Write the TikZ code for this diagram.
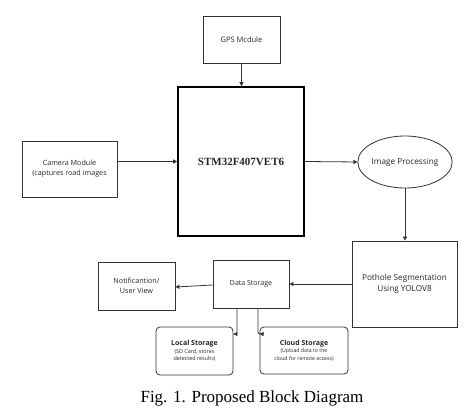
\documentclass[tikz,border=0pt]{standalone}
\usepackage{fontspec}
\setmainfont{Open Sans}
\newfontfamily\capfont{Liberation Serif}
\usetikzlibrary{arrows.meta,shapes.geometric}
\begin{document}
\begin{tikzpicture}[x=1pt,y=-1pt,
  box/.style={draw=black!80,line width=0.8pt,rectangle,inner sep=0pt,align=center,text=black!85},
  rbox/.style={box,rounded corners=4pt},
  conn/.style={draw=black!80,line width=0.8pt,-{Triangle[length=4pt,width=4pt]}},
  link/.style={draw=black!80,line width=0.8pt}]
\useasboundingbox (0,0) rectangle (474,414);
\node[box,minimum width=77pt,minimum height=47pt,font=\fontsize{7.5}{9}\selectfont] (gps) at (241.5,39.5) {GPS Mcdule};
\node[box,draw=black,line width=1.6pt,minimum width=126pt,minimum height=149pt,font=\capfont\bfseries\fontsize{11}{13}\selectfont] (stm) at (241,161.5) {STM32F407VET6};
\node[box,minimum width=95pt,minimum height=56pt,font=\fontsize{7.2}{10}\selectfont] (cam) at (69.5,169) {Camera Module\\(captures road images};
\node[box,ellipse,minimum width=86pt,minimum height=52pt,font=\fontsize{8.2}{10}\selectfont] (img) at (405,162) {Image Processing};
\node[box,minimum width=105pt,minimum height=86pt,font=\fontsize{8.2}{11}\selectfont] (pot) at (404.5,284) {Pothole Segmentation\\Using YOLOV8};
\node[box,minimum width=76pt,minimum height=48pt,font=\fontsize{7}{9}\selectfont] (ds) at (251,284) {Data Storage};
\node[box,minimum width=77pt,minimum height=48pt,font=\fontsize{7.2}{10}\selectfont] (note) at (136.5,286) {Notificantion/\\User View};
\node[rbox,minimum width=77pt,minimum height=48pt,font=\fontsize{5.4}{7.5}\selectfont] (loc) at (194.5,351) {{\bfseries\fontsize{7}{9}\selectfont Local Storage}\\(SD Card, stores\\detected results)};
\node[rbox,minimum width=88pt,minimum height=47pt,font=\fontsize{5.2}{7.5}\selectfont] (cld) at (304,350.5) {{\bfseries\fontsize{7}{9}\selectfont Cloud Storage}\\(Upload data to the\\cloud for remote access)};
\node[font=\capfont\fontsize{17}{20}\selectfont,text=black] (cap) at (252,398) {Fig. 1. Proposed Block Diagram};
\draw[conn] (gps.south) -- (gps.south |- stm.north);
\draw[conn] (cam.east |- stm.west) -- (stm.west);
\draw[conn] (stm.east) -- (img.west);
\draw[conn] (img.south) -- (img.south |- pot.north);
\draw[conn] (pot.west |- ds.east) -- (ds.east);
\draw[conn] (ds.west |- note.east) ++(0,-1) -- ([yshift=-1pt]note.east);
\coordinate (lb) at (237,334);
\coordinate (cb) at (258,334);
\draw[conn,rounded corners=2pt] (ds.south -| lb) |- (lb -| loc.east);
\draw[conn,rounded corners=2pt] (ds.south -| cb) |- (cb -| cld.west);
\end{tikzpicture}
\end{document}
